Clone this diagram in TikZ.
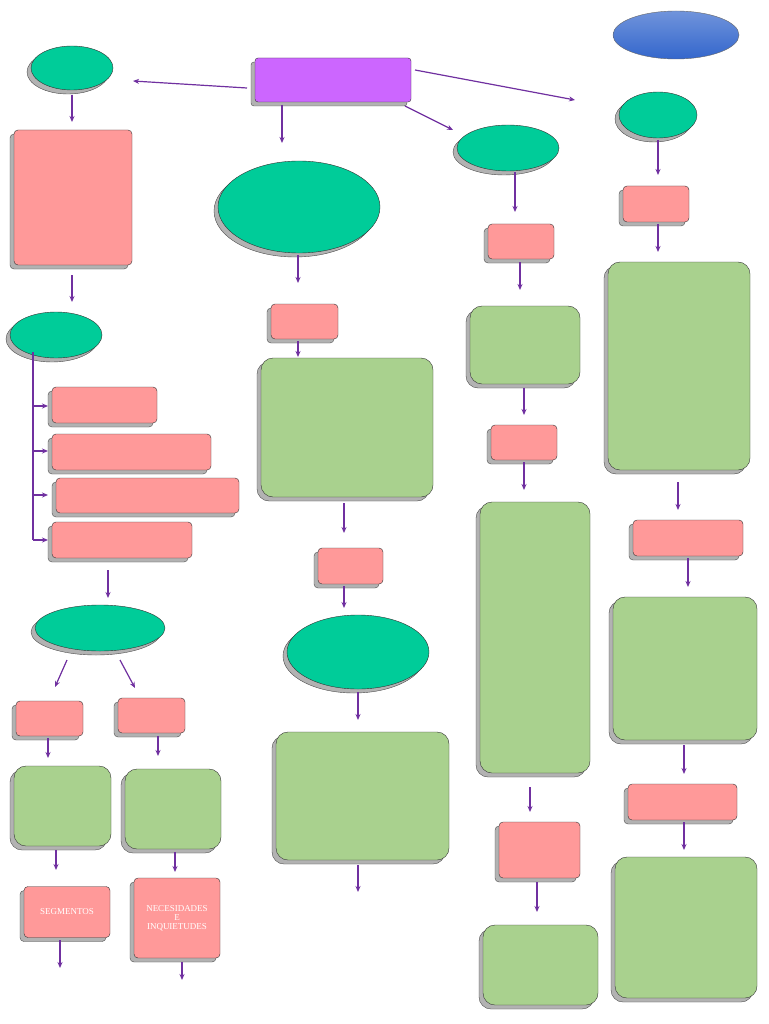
\documentclass[tikz,border=0pt]{standalone}
\usetikzlibrary{shapes.geometric,shadows,arrows.meta}
\usepackage{fontspec}
\setmainfont{Liberation Serif}
\definecolor{grn}{HTML}{00CC99}
\definecolor{pnk}{HTML}{FF9999}
\definecolor{lg}{HTML}{A9D18E}
\definecolor{prp}{HTML}{7030A0}
\definecolor{vio}{HTML}{CC66FF}
\definecolor{blu}{HTML}{3366CC}
\tikzset{x=1pt,y=1pt,
 shd/.style={drop shadow={shadow xshift=-4pt,shadow yshift=-4pt,opacity=1,fill=gray!60,draw=black!70}},
 pinkb/.style={shd,draw=black!80,fill=pnk,rounded corners=4pt,inner sep=1pt,align=center,text=white,font=\fontsize{9}{9}\selectfont},
 greenb/.style={shd,draw=black!80,fill=lg,rounded corners=12pt},
 ell/.style={ellipse,shd,draw=black!80,fill=grn,inner sep=0pt},
 arr/.style={draw=prp,line width=1.2pt,-{Stealth[length=6pt,width=5pt]}}}
\newcommand\bx[6]{\node[#1,minimum width={(#4-#3)*1pt},minimum height={(#6-#5)*1pt}] (#2) at ({(#3+#4)/2},{-(#5+#6)/2}) {};}
\newcommand\el[6]{\node[#1,minimum width=#5pt,minimum height=#6pt] (#2) at (#3,-#4) {};}
\begin{document}
\begin{tikzpicture}
\path[fill=white] (0,0) rectangle (768,-1024);
\useasboundingbox (0,0) rectangle (768,-1024);
% ellipses
\el{ell}{e1}{72}{68}{82}{44}
\el{ell}{e2}{299}{207}{162}{92}
\el{ell}{e3}{508}{148}{102}{46}
\el{ell}{e4}{658}{115}{78}{46}
\el{ell}{e5}{56}{335}{92}{46}
\el{ell}{e6}{100}{628}{130}{46}
\el{ell}{e7}{358}{652}{142}{74}
\node[ellipse,draw=black!60,top color=blu!70,bottom color=blu,minimum width=126pt,minimum height=48pt] (eb) at (676,-35) {};
\node[shd,draw=black!80,fill=vio,rounded corners=3pt,minimum width=156pt,minimum height=44pt] (top) at (333,-80) {};
% pink
\bx{pinkb}{p1}{14}{132}{130}{265}
\bx{pinkb}{p2}{52}{157}{387}{423}
\bx{pinkb}{p3}{52}{211}{434}{470}
\bx{pinkb}{p4}{56}{239}{478}{513}
\bx{pinkb}{p5}{52}{192}{522}{558}
\bx{pinkb}{p6}{16}{83}{701}{736}
\bx{pinkb}{p7}{118}{185}{698}{733}
\node[pinkb,minimum width=86pt,minimum height=51pt] (p8) at (67,-912) {SEGMENTOS};
\node[pinkb,minimum width=86pt,minimum height=80pt] (p9) at (177,-918) {NECESIDADES\\E\\INQUIETUDES};
\bx{pinkb}{p10}{271}{338}{304}{339}
\bx{pinkb}{p11}{318}{383}{548}{584}
\bx{pinkb}{p12}{488}{554}{224}{259}
\bx{pinkb}{p13}{491}{557}{425}{460}
\bx{pinkb}{p14}{499}{580}{822}{878}
\bx{pinkb}{p15}{623}{689}{186}{222}
\bx{pinkb}{p16}{633}{743}{520}{556}
\bx{pinkb}{p17}{628}{737}{784}{820}
% green
\bx{greenb}{g1}{261}{433}{358}{497}
\bx{greenb}{g2}{276}{449}{732}{860}
\bx{greenb}{g3}{470}{580}{306}{384}
\bx{greenb}{g4}{480}{590}{502}{773}
\bx{greenb}{g5}{483}{598}{925}{1005}
\bx{greenb}{g6}{608}{750}{262}{470}
\bx{greenb}{g7}{613}{757}{597}{740}
\bx{greenb}{g8}{615}{757}{857}{998}
\bx{greenb}{g9}{14}{111}{766}{846}
\bx{greenb}{g10}{125}{221}{769}{849}
% arrows
\draw[arr] (247,-88) -- (133,-81);
\draw[arr] (415,-70) -- (575,-100);
\draw[arr] (282,-105) -- (282,-143);
\draw[arr] (405,-106) -- (453,-130);
\draw[arr] (72,-95) -- (72,-122);
\draw[arr] (72,-275) -- (72,-302);
\draw[draw=prp,line width=1.2pt] (33,-352) -- (33,-540);
\foreach \y in {406,451,495,540} \draw[arr] (33,-\y) -- (48,-\y);
\draw[arr] (108,-570) -- (108,-598);
\draw[arr] (67,-660) -- (55,-687);
\draw[arr] (120,-660) -- (135,-688);
\draw[arr] (48,-738) -- (48,-758);
\draw[arr] (158,-736) -- (158,-756);
\draw[arr] (56,-850) -- (56,-870);
\draw[arr] (175,-852) -- (175,-872);
\draw[arr] (60,-940) -- (60,-968);
\draw[arr] (182,-962) -- (182,-980);
\draw[arr] (298,-255) -- (298,-283);
\draw[arr] (298,-341) -- (298,-357);
\draw[arr] (344,-503) -- (344,-533);
\draw[arr] (344,-586) -- (344,-608);
\draw[arr] (358,-692) -- (358,-720);
\draw[arr] (358,-865) -- (358,-892);
\draw[arr] (515,-172) -- (515,-212);
\draw[arr] (520,-262) -- (520,-290);
\draw[arr] (524,-388) -- (524,-415);
\draw[arr] (524,-462) -- (524,-490);
\draw[arr] (530,-787) -- (530,-812);
\draw[arr] (537,-882) -- (537,-912);
\draw[arr] (658,-140) -- (658,-175);
\draw[arr] (658,-224) -- (658,-252);
\draw[arr] (678,-482) -- (678,-510);
\draw[arr] (688,-558) -- (688,-587);
\draw[arr] (684,-745) -- (684,-774);
\draw[arr] (684,-822) -- (684,-850);
\end{tikzpicture}
\end{document}
